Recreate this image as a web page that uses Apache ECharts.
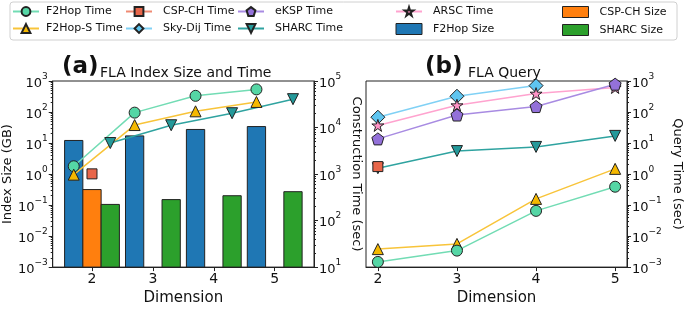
<!DOCTYPE html>
<html>
<head>
<meta charset="utf-8">
<script src="https://cdn.jsdelivr.net/npm/echarts@6/dist/echarts.min.js"></script>
<style>
  html, body { margin: 0; padding: 0; background: #fff; }
  #main { width: 685px; height: 311px; }
</style>
</head>
<body>
<div id="main"></div>
<script>
// dimensions on the x axis
const dims = [2, 3, 4, 5];

// (a) index size, GB (left axis)
const f2hopSizeGB = [12.1, 17, 27.4, 34];
const cspchSizeGB = [0.316];
const sharcSizeGB = [0.105, 0.15, 0.2, 0.27];

// (a) construction time, sec (right axis)
const f2hopBuildSec = [1470, 20900, 48000, 66000];
const f2hopSBuildSec = [970, 11300, 22300, 35500];
const cspchBuildSec = [1010];
const sharcBuildSec = [4640, 11200, 20300, 40700];

// (b) query time, sec
const f2hopQuerySec = [0.00147, 0.0034, 0.065, 0.39];
const f2hopSQuerySec = [0.0038, 0.0056, 0.158, 1.47];
const cspchQuerySec = [1.74];
const skyDijQuerySec = [68, 323, 710];
const ekspQuerySec = [13.6, 80, 150, 790];
const sharcQuerySec = [1.54, 5.5, 7.5, 17];
const arscQuerySec = [37, 165, 392, 617];

const FONT = 'DejaVu Sans';
const EDGE = '#222';
const barW = 0.3;
const sizeMin = 1e-3;

const pentagon = 'path://M0,-1L0.951,-0.309L0.588,0.809L-0.588,0.809L-0.951,-0.309Z';
const star = 'path://M0,-1L0.2245,-0.309L0.951,-0.309L0.3633,0.118L0.5878,0.809L0,0.382L-0.5878,0.809L-0.3633,0.118L-0.951,-0.309L-0.2245,-0.309Z';

const pow10 = (v) => {
    const e = Math.round(Math.log10(v));
    return '{b|10}{s|' + (e < 0 ? '\u2212' + (-e) : e) + '}';
};
const powRich = {
    b: { fontSize: 13, fontFamily: FONT, color: '#111', lineHeight: 18, verticalAlign: 'bottom' },
    s: { fontSize: 9, fontFamily: FONT, color: '#111', lineHeight: 18, verticalAlign: 'top' }
};

const shift = (arr, off) => arr.map((v, i) => [dims[i] + off, v]);

const barItem = (params, api) => {
    const x = api.value(0), y = api.value(1);
    const a = api.coord([x - barW / 2, y]);
    const b = api.coord([x + barW / 2, sizeMin]);
    return {
        type: 'rect',
        shape: { x: a[0], y: a[1], width: b[0] - a[0], height: b[1] - a[1] },
        style: { fill: api.visual('color'), stroke: EDGE, lineWidth: 1 }
    };
};

const lineSeries = (name, data, xi, yi, fill, line, symbol, size, rot) => ({
    name: name,
    type: 'line',
    xAxisIndex: xi,
    yAxisIndex: yi,
    data: data,
    symbol: symbol,
    symbolSize: size,
    symbolRotate: rot || 0,
    showAllSymbol: true,
    z: 5,
    itemStyle: { color: fill, borderColor: EDGE, borderWidth: 1 },
    lineStyle: { color: line, width: 1.5 },
    emphasis: { disabled: true }
});

const barSeries = (name, data, color) => ({
    name: name,
    type: 'custom',
    xAxisIndex: 0,
    yAxisIndex: 0,
    renderItem: barItem,
    encode: { x: 0, y: 1 },
    itemStyle: { color: color },
    z: 1,
    data: data
});

const xAxisCommon = {
    type: 'value',
    axisLine: { show: true, lineStyle: { color: EDGE, width: 1 } },
    axisTick: { show: true, length: 4, customValues: dims, lineStyle: { color: EDGE } },
    axisLabel: { customValues: dims, fontSize: 14, fontFamily: FONT, color: '#111', margin: 5 },
    splitLine: { show: false },
    name: 'Dimension',
    nameLocation: 'middle',
    nameGap: 20,
    nameTextStyle: { fontSize: 15, fontFamily: FONT, color: '#111' }
};

const yLog = (min, max, extra) => Object.assign({
    type: 'log',
    logBase: 10,
    min: min,
    max: max,
    interval: 1,
    axisLine: { show: true, lineStyle: { color: EDGE, width: 1 } },
    axisTick: { show: true, length: 4, lineStyle: { color: EDGE } },
    minorTick: { show: true, splitNumber: 9, length: 2, lineStyle: { color: EDGE } },
    axisLabel: { formatter: pow10, rich: powRich, margin: 5 },
    splitLine: { show: false },
    nameLocation: 'middle',
    nameTextStyle: { fontSize: 13, fontFamily: FONT, color: '#111' }
}, extra);

const legendBox = (left, names, pad) => ({
    orient: 'vertical',
    left: left,
    top: 6,
    itemWidth: 26,
    itemHeight: 11,
    itemGap: 6,
    padding: 0,
    selectedMode: false,
    textStyle: { fontSize: 11, fontFamily: FONT, color: '#111', padding: [0, 0, 0, pad] },
    data: names.map(n => n.indexOf('Size') > 0
        ? { name: n, icon: 'rect', itemStyle: { borderColor: EDGE, borderWidth: 1 } }
        : n)
});

const option = {
    animation: false,
    backgroundColor: '#fff',
    textStyle: { fontFamily: FONT },
    graphic: [{
        type: 'rect',
        shape: { x: 10, y: 2, width: 667, height: 38, r: 3 },
        style: { fill: '#fff', stroke: '#d0d0d0', lineWidth: 1 },
        z: -1
    }],
    title: [
        { text: '(a)', left: 62, top: 56, padding: 0, textStyle: { fontSize: 23, fontWeight: 'bold', fontFamily: FONT, color: '#111' } },
        { text: 'FLA Index Size and Time', left: 100, top: 66, padding: 0, textStyle: { fontSize: 14, fontWeight: 'normal', fontFamily: FONT, color: '#111' } },
        { text: '(b)', left: 425, top: 56, padding: 0, textStyle: { fontSize: 23, fontWeight: 'bold', fontFamily: FONT, color: '#111' } },
        { text: 'FLA Query', left: 468, top: 66, padding: 0, textStyle: { fontSize: 14, fontWeight: 'normal', fontFamily: FONT, color: '#111' } }
    ],
    legend: [
        legendBox(12, ['F2Hop Time', 'F2Hop-S Time'], 2),
        legendBox(125, ['CSP-CH Time', 'Sky-Dij Time'], 6),
        legendBox(237, ['eKSP Time', 'SHARC Time'], 6),
        legendBox(395, ['ARSC Time', 'F2Hop Size'], 6),
        legendBox(562, ['CSP-CH Size', 'SHARC Size'], 6)
    ],
    grid: [
        { left: 52, top: 81, width: 262, height: 192, show: true, borderColor: EDGE, borderWidth: 1, backgroundColor: 'transparent' },
        { left: 366, top: 81, width: 261, height: 192, show: true, borderColor: EDGE, borderWidth: 1, backgroundColor: 'transparent' }
    ],
    xAxis: [
        Object.assign({ gridIndex: 0, min: 1.355, max: 5.645 }, xAxisCommon),
        Object.assign({ gridIndex: 1, min: 1.85, max: 5.15 }, xAxisCommon)
    ],
    yAxis: [
        yLog(1e-3, 1e3, { gridIndex: 0, position: 'left', name: 'Index Size (GB)', nameGap: 36 }),
        yLog(10, 1e5, { gridIndex: 0, position: 'right', name: 'Construction Time (sec)', nameGap: 36, nameRotate: -90 }),
        yLog(1e-3, 1e3, { gridIndex: 1, position: 'right', name: 'Query Time (sec)', nameGap: 44, nameRotate: -90 })
    ],
    series: [
        barSeries('F2Hop Size', shift(f2hopSizeGB, -barW), '#1f77b4'),
        barSeries('CSP-CH Size', shift(cspchSizeGB, 0), '#ff7f0e'),
        barSeries('SHARC Size', shift(sharcSizeGB, barW), '#2ca02c'),

        lineSeries('F2Hop Time', shift(f2hopBuildSec, -barW), 0, 1, '#55d6a5', '#72dcb4', 'circle', 11),
        lineSeries('F2Hop-S Time', shift(f2hopSBuildSec, -barW), 0, 1, '#f5b800', '#f8c43a', 'triangle', 11),
        lineSeries('CSP-CH Time', shift(cspchBuildSec, 0), 0, 1, '#e8664a', '#ef8a73', 'rect', 10),
        lineSeries('SHARC Time', shift(sharcBuildSec, barW), 0, 1, '#24999a', '#2fa3a0', 'triangle', 11, 180),

        lineSeries('Sky-Dij Time', shift(skyDijQuerySec, 0), 1, 2, '#5ec5f0', '#80d1f5', 'diamond', 14),
        lineSeries('ARSC Time', shift(arscQuerySec, 0), 1, 2, '#ff93c6', '#ffa3cf', star, 12),
        lineSeries('eKSP Time', shift(ekspQuerySec, 0), 1, 2, '#9371d9', '#a88be2', pentagon, 12),
        lineSeries('SHARC Time', shift(sharcQuerySec, 0), 1, 2, '#24999a', '#2fa3a0', 'triangle', 11, 180),
        lineSeries('CSP-CH Time', shift(cspchQuerySec, 0), 1, 2, '#e8664a', '#ef8a73', 'rect', 10),
        lineSeries('F2Hop-S Time', shift(f2hopSQuerySec, 0), 1, 2, '#f5b800', '#f8c43a', 'triangle', 11),
        lineSeries('F2Hop Time', shift(f2hopQuerySec, 0), 1, 2, '#55d6a5', '#72dcb4', 'circle', 11)
    ]
};

const chart = echarts.init(document.getElementById('main'), null, { renderer: 'canvas' });
chart.setOption(option);
</script>
</body>
</html>
